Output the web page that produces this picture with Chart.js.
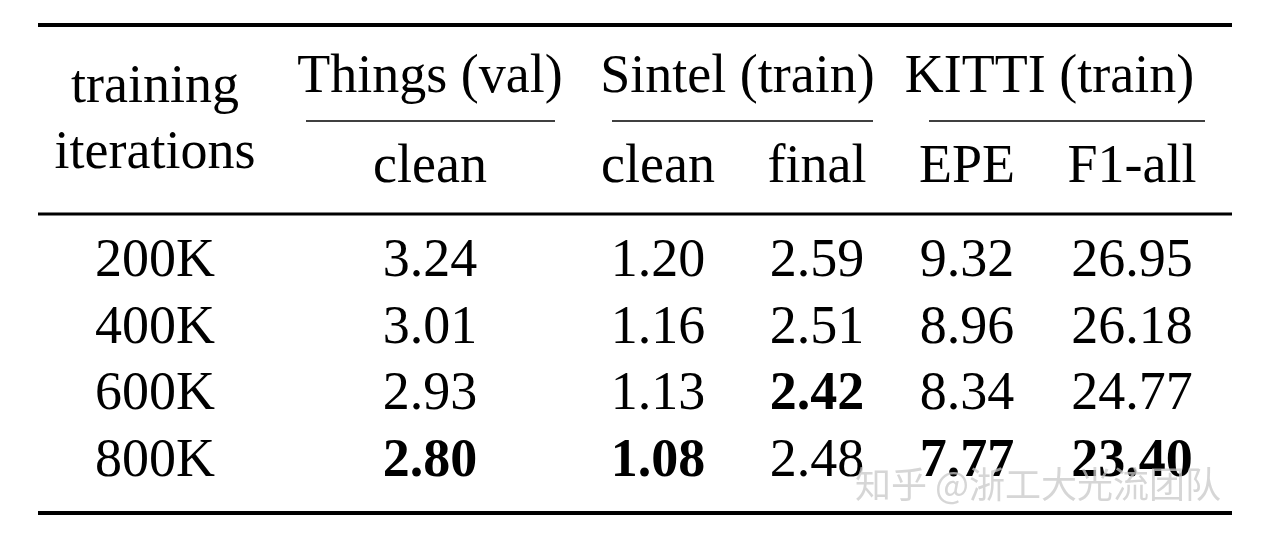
<!DOCTYPE html>
<html><head><meta charset="utf-8">
<script src="https://cdn.jsdelivr.net/npm/chart.js@4"></script>
<style>html,body{margin:0;padding:0;background:#fff}#w{width:1270px;height:534px}</style>
</head><body><div id="w"><canvas id="c"></canvas></div>
<script>
const iterations = ["200K","400K","600K","800K"];
const thingsClean = [3.24,3.01,2.93,2.80];
const sintelClean = [1.20,1.16,1.13,1.08];
const sintelFinal = [2.59,2.51,2.42,2.48];
const kittiEPE = [9.32,8.96,8.34,7.77];
const kittiF1 = [26.95,26.18,24.77,23.40];
const groupHeaders = ["Things (val)","Sintel (train)","KITTI (train)"];
const subHeaders = ["clean","clean","final","EPE","F1-all"];
const rowHeader = ["training","iterations"];
const watermark = "知乎 @浙工大光流团队";

const series = [thingsClean,sintelClean,sintelFinal,kittiEPE,kittiF1];
const colX = [1.55,4.30,6.58,8.17,9.67,11.32];
const rowY = [2.62,3.29,3.95,4.62];
const FONT = "'Liberation Serif', 'DejaVu Serif', serif";
const FS = '54px ';

const tablePlugin = {
  id:'table',
  afterDraw(chart){
    const ctx=chart.ctx, X=chart.scales.x, Y=chart.scales.y;
    const px=v=>X.getPixelForValue(v), py=v=>Y.getPixelForValue(v);
    ctx.save();
    ctx.fillStyle='#000'; ctx.strokeStyle='#000';
    ctx.textAlign='center'; ctx.textBaseline='middle';
    const rule=(x0,x1,y,w)=>{ctx.lineWidth=w;ctx.beginPath();ctx.moveTo(px(x0),py(y));ctx.lineTo(px(x1),py(y));ctx.stroke();};
    rule(0.38,12.32,0.25,4);
    rule(3.06,5.55,1.21,1.5);rule(6.12,8.73,1.21,1.5);rule(9.29,12.05,1.21,1.5);
    rule(0.38,12.32,2.14,3);
    rule(0.38,12.32,5.13,4);
    ctx.font=FS+FONT;
    ctx.fillText(rowHeader[0],px(colX[0]),py(0.88));
    ctx.fillText(rowHeader[1],px(colX[0]),py(1.54));
    ctx.fillText(groupHeaders[0],px(colX[1]),py(0.78));
    ctx.fillText(groupHeaders[1],px((colX[2]+colX[3])/2),py(0.78));
    ctx.fillText(groupHeaders[2],px((colX[4]+colX[5])/2),py(0.78));
    subHeaders.forEach((s,i)=>ctx.fillText(s,px(colX[i+1]),py(1.68)));
    iterations.forEach((s,r)=>ctx.fillText(s,px(colX[0]),py(rowY[r])));
    series.forEach((arr,c)=>{
      const best=Math.min(...arr);
      arr.forEach((v,r)=>{
        ctx.font=(v===best?'bold ':'')+FS+FONT;
        ctx.fillText(v.toFixed(2),px(colX[c+1]),py(rowY[r]));
      });
    });
    ctx.font='36px "Noto Sans CJK SC", sans-serif';
    ctx.fillStyle='rgba(200,200,200,0.75)';
    ctx.textAlign='left';
    ctx.fillText(watermark,px(8.55),py(4.84));
    ctx.restore();
  }
};

new Chart(document.getElementById('c'),{
  type:'scatter',
  data:{datasets:[{data:[],pointRadius:0}]},
  options:{
    responsive:true, maintainAspectRatio:false, animation:false,
    layout:{padding:0},
    plugins:{legend:{display:false},tooltip:{enabled:false}},
    scales:{
      x:{type:'linear',min:0,max:12.70,display:false},
      y:{type:'linear',min:0,max:5.34,reverse:true,display:false}
    }
  },
  plugins:[tablePlugin]
});
</script></body></html>
